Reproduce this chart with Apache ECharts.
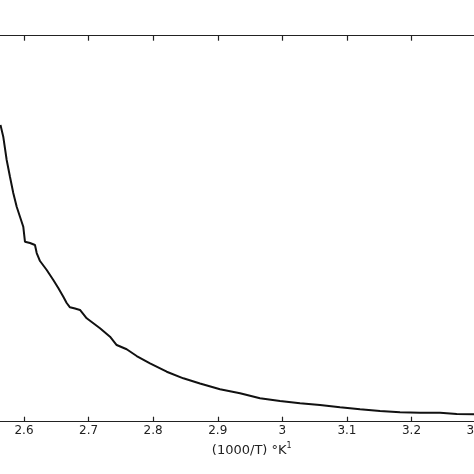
<!DOCTYPE html>
<html>
<head>
<meta charset="utf-8">
<script src="https://cdn.jsdelivr.net/npm/echarts@6/dist/echarts.min.js"></script>
<style>
html,body{margin:0;padding:0;background:#fff;}
#chart{width:474px;height:474px;}
</style>
</head>
<body>
<div id="chart"></div>
<script>
// 1000/T values (K^-1)
const invT = [2.5636, 2.5644, 2.5679, 2.5732, 2.5783, 2.5834, 2.5887, 2.5938, 2.5989, 2.6015,
  2.6093, 2.6170, 2.6197, 2.6248, 2.6352, 2.6454, 2.6531, 2.6609, 2.6661, 2.6712,
  2.6790, 2.6867, 2.6971, 2.7177, 2.7332, 2.7435, 2.7590, 2.7745, 2.7951, 2.8210,
  2.8467, 2.8725, 2.9035, 2.9345, 2.9654, 2.9964, 3.0274, 3.0583, 3.0893, 3.1203,
  3.1513, 3.1822, 3.2132, 3.2442, 3.2700, 3.2968];
// measured quantity (arbitrary units, axis not visible)
const values = [7.687, 7.661, 7.383, 6.780, 6.347, 5.925, 5.570, 5.311, 5.052, 4.663,
  4.630, 4.578, 4.370, 4.163, 3.930, 3.671, 3.464, 3.238, 3.075, 2.964,
  2.933, 2.894, 2.679, 2.420, 2.202, 1.987, 1.876, 1.702, 1.513, 1.295,
  1.124, 0.990, 0.839, 0.736, 0.606, 0.536, 0.477, 0.433, 0.373, 0.321,
  0.277, 0.244, 0.233, 0.233, 0.199, 0.192];
const xTitle = '(1000/T) °K';
const xTitleSup = '1';

const chart = echarts.init(document.getElementById('chart'), null, {renderer: 'canvas'});
const axisColor = '#222';
chart.setOption({
  backgroundColor: '#fff',
  animation: false,
  grid: {left: -40.6, right: -2.1, top: 35.7, bottom: 52.3, containLabel: false, outerBoundsMode: 'none'},
  xAxis: [{
    type: 'value', position: 'bottom', min: 2.5, max: 3.3, interval: 0.1,
    axisLine: {show: true, onZero: false, lineStyle: {color: axisColor, width: 1.2}},
    axisTick: {show: true, inside: true, length: 5, lineStyle: {color: axisColor, width: 1.2}},
    splitLine: {show: false},
    axisLabel: {
      show: true, margin: 3, color: axisColor, fontFamily: 'DejaVu Sans', fontSize: 12,
      showMinLabel: true, showMaxLabel: true,
      formatter: v => String(Math.round(v * 10) / 10)
    },
    name: '{a|' + xTitle + '}{s|' + xTitleSup + '}',
    nameLocation: 'middle', nameGap: 18,
    nameTextStyle: {
      padding: [0, 0, 0, 68],
      rich: {
        a: {fontFamily: 'DejaVu Sans', fontSize: 13, color: axisColor, verticalAlign: 'bottom', lineHeight: 16},
        s: {fontFamily: 'DejaVu Sans', fontSize: 8, color: axisColor, verticalAlign: 'top', padding: [0, 0, 6, 0], lineHeight: 16}
      }
    }
  }, {
    type: 'value', position: 'top', min: 2.5, max: 3.3, interval: 0.1,
    axisLine: {show: true, onZero: false, lineStyle: {color: axisColor, width: 1.2}},
    axisTick: {show: true, inside: true, length: 5, lineStyle: {color: axisColor, width: 1.2}},
    axisLabel: {show: false},
    splitLine: {show: false}
  }],
  yAxis: {
    type: 'value', min: 0, max: 10,
    axisLine: {show: false}, axisTick: {show: false}, axisLabel: {show: false}, splitLine: {show: false}
  },
  series: [{
    type: 'line',
    xAxisIndex: 0,
    data: invT.map((x, i) => [x, values[i]]),
    showSymbol: false,
    smooth: false,
    lineStyle: {color: '#111', width: 2},
    clip: true
  }]
});
</script>
</body>
</html>
